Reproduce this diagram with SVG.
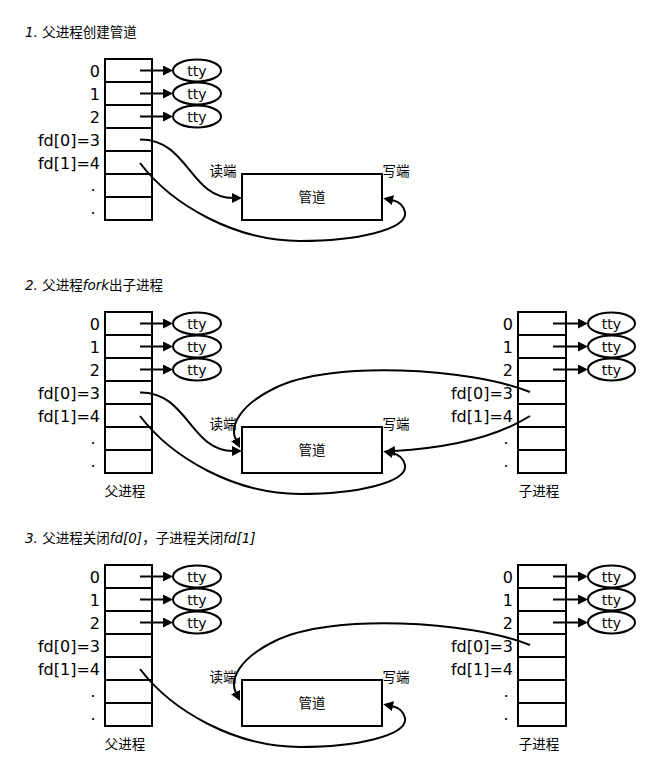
<svg xmlns="http://www.w3.org/2000/svg" width="654" height="761" viewBox="0 0 654 761">
<defs>
<style>
text{font-family:"DejaVu Sans","Noto Sans CJK SC",sans-serif;fill:#000}
.title{font-size:13.5px}
.it{font-style:italic}
.lbl{font-size:16px;text-anchor:end}
.dot{font-size:16px;text-anchor:middle}
.tty{font-size:14px;text-anchor:middle}
.cj{font-size:13.5px;text-anchor:middle}
.cell{fill:#fff;stroke:#000;stroke-width:2}
.ell{fill:#fff;stroke:#000;stroke-width:2}
.ln{fill:none;stroke:#000;stroke-width:2;marker-end:url(#ah)}
</style>
<marker id="ah" viewBox="0 0 10 10" refX="1" refY="5" markerWidth="10" markerHeight="10" markerUnits="userSpaceOnUse" orient="auto">
<path d="M0,0 L10,5 L0,10 z" fill="#000"/>
</marker>
</defs>
<rect width="654" height="761" fill="#fff"/>

<!-- Section 1 -->
<g id="section1">
<text class="title" x="25" y="37"><tspan class="it">1.</tspan> 父进程创建管道</text>
<g id="s1-parent-table">
<rect class="cell" x="105" y="59" width="47" height="23"/>
<rect class="cell" x="105" y="82" width="47" height="23"/>
<rect class="cell" x="105" y="105" width="47" height="23"/>
<rect class="cell" x="105" y="128" width="47" height="23"/>
<rect class="cell" x="105" y="151" width="47" height="23"/>
<rect class="cell" x="105" y="174" width="47" height="23"/>
<rect class="cell" x="105" y="197" width="47" height="23"/>
<text class="lbl" x="100" y="76.5">0</text>
<text class="lbl" x="100" y="99.5">1</text>
<text class="lbl" x="100" y="122.5">2</text>
<text class="lbl" x="100" y="145.5">fd[0]=3</text>
<text class="lbl" x="100" y="168.5">fd[1]=4</text>
<text class="dot" x="93" y="191">.</text>
<text class="dot" x="93" y="214">.</text>
</g>
<g id="s1-tty0"><ellipse class="ell" cx="197" cy="70.5" rx="24" ry="11"/><text class="tty" x="197" y="75.5">tty</text></g>
<g id="s1-tty1"><ellipse class="ell" cx="197" cy="93.5" rx="24" ry="11"/><text class="tty" x="197" y="98.5">tty</text></g>
<g id="s1-tty2"><ellipse class="ell" cx="197" cy="116.5" rx="24" ry="11"/><text class="tty" x="197" y="121.5">tty</text></g>
<g id="s1-pipe">
<rect class="cell" x="242" y="174" width="140" height="46"/>
<text class="cj" x="312" y="202">管道</text>
<text class="cj" x="223" y="176">读端</text>
<text class="cj" x="396" y="176">写端</text>
</g>
<g id="s1-connectors">
<path class="ln" d="M140,70.5 H164"/>
<path class="ln" d="M140,93.5 H164"/>
<path class="ln" d="M140,116.5 H164"/>
<path class="ln" d="M140,139.5 C188,139 190,198 233,198"/>
<path class="ln" d="M140,163 C172,205 235,241 300,241 C355,241 408,230 405,212 C403,204 397,201 392,200"/>
</g>
</g>

<!-- Section 2 -->
<g id="section2" transform="translate(0,253)">
<text class="title" x="25" y="37"><tspan class="it">2.</tspan> 父进程<tspan class="it">fork</tspan>出子进程</text>
<g id="s2-parent-table">
<rect class="cell" x="105" y="59" width="47" height="23"/>
<rect class="cell" x="105" y="82" width="47" height="23"/>
<rect class="cell" x="105" y="105" width="47" height="23"/>
<rect class="cell" x="105" y="128" width="47" height="23"/>
<rect class="cell" x="105" y="151" width="47" height="23"/>
<rect class="cell" x="105" y="174" width="47" height="23"/>
<rect class="cell" x="105" y="197" width="47" height="23"/>
<text class="lbl" x="100" y="76.5">0</text>
<text class="lbl" x="100" y="99.5">1</text>
<text class="lbl" x="100" y="122.5">2</text>
<text class="lbl" x="100" y="145.5">fd[0]=3</text>
<text class="lbl" x="100" y="168.5">fd[1]=4</text>
<text class="dot" x="93" y="191">.</text>
<text class="dot" x="93" y="214">.</text>
<text class="cj" x="125" y="243">父进程</text>
</g>
<g id="s2-tty0"><ellipse class="ell" cx="197" cy="70.5" rx="24" ry="11"/><text class="tty" x="197" y="75.5">tty</text></g>
<g id="s2-tty1"><ellipse class="ell" cx="197" cy="93.5" rx="24" ry="11"/><text class="tty" x="197" y="98.5">tty</text></g>
<g id="s2-tty2"><ellipse class="ell" cx="197" cy="116.5" rx="24" ry="11"/><text class="tty" x="197" y="121.5">tty</text></g>
<g id="s2-pipe">
<rect class="cell" x="242" y="174" width="140" height="46"/>
<text class="cj" x="312" y="202">管道</text>
<text class="cj" x="223" y="176">读端</text>
<text class="cj" x="396" y="176">写端</text>
</g>
<g id="s2-child-table">
<rect class="cell" x="518" y="59" width="48" height="23"/>
<rect class="cell" x="518" y="82" width="48" height="23"/>
<rect class="cell" x="518" y="105" width="48" height="23"/>
<rect class="cell" x="518" y="128" width="48" height="23"/>
<rect class="cell" x="518" y="151" width="48" height="23"/>
<rect class="cell" x="518" y="174" width="48" height="23"/>
<rect class="cell" x="518" y="197" width="48" height="23"/>
<text class="lbl" x="513" y="76.5">0</text>
<text class="lbl" x="513" y="99.5">1</text>
<text class="lbl" x="513" y="122.5">2</text>
<text class="lbl" x="513" y="145.5">fd[0]=3</text>
<text class="lbl" x="513" y="168.5">fd[1]=4</text>
<text class="dot" x="506" y="191">.</text>
<text class="dot" x="506" y="214">.</text>
<text class="cj" x="539" y="243">子进程</text>
</g>
<g id="s2-ctty0"><ellipse class="ell" cx="611.5" cy="70.5" rx="23.5" ry="11"/><text class="tty" x="611.5" y="75.5">tty</text></g>
<g id="s2-ctty1"><ellipse class="ell" cx="611.5" cy="93.5" rx="23.5" ry="11"/><text class="tty" x="611.5" y="98.5">tty</text></g>
<g id="s2-ctty2"><ellipse class="ell" cx="611.5" cy="116.5" rx="23.5" ry="11"/><text class="tty" x="611.5" y="121.5">tty</text></g>
<g id="s2-connectors">
<path class="ln" d="M140,70.5 H164"/>
<path class="ln" d="M140,93.5 H164"/>
<path class="ln" d="M140,116.5 H164"/>
<path class="ln" d="M553,70.5 H579"/>
<path class="ln" d="M553,93.5 H579"/>
<path class="ln" d="M553,116.5 H579"/>
<path class="ln" d="M140,139.5 C188,139 190,198 233,198"/>
<path class="ln" d="M140,163 C172,205 235,241 300,241 C355,241 408,230 405,212 C403,204 397,201 392,200"/>
<path class="ln" d="M530,139 C470,115 330,107 275,135 C240,152 229,173 236,187"/>
<path class="ln" d="M530,163 C495,185 445,195 394,198"/>
</g>
</g>

<!-- Section 3 -->
<g id="section3" transform="translate(0,506)">
<text class="title" x="25" y="37"><tspan class="it">3.</tspan> 父进程关闭<tspan class="it">fd[0]</tspan>，子进程关闭<tspan class="it">fd[1]</tspan></text>
<g id="s3-parent-table">
<rect class="cell" x="105" y="59" width="47" height="23"/>
<rect class="cell" x="105" y="82" width="47" height="23"/>
<rect class="cell" x="105" y="105" width="47" height="23"/>
<rect class="cell" x="105" y="128" width="47" height="23"/>
<rect class="cell" x="105" y="151" width="47" height="23"/>
<rect class="cell" x="105" y="174" width="47" height="23"/>
<rect class="cell" x="105" y="197" width="47" height="23"/>
<text class="lbl" x="100" y="76.5">0</text>
<text class="lbl" x="100" y="99.5">1</text>
<text class="lbl" x="100" y="122.5">2</text>
<text class="lbl" x="100" y="145.5">fd[0]=3</text>
<text class="lbl" x="100" y="168.5">fd[1]=4</text>
<text class="dot" x="93" y="191">.</text>
<text class="dot" x="93" y="214">.</text>
<text class="cj" x="125" y="243">父进程</text>
</g>
<g id="s3-tty0"><ellipse class="ell" cx="197" cy="70.5" rx="24" ry="11"/><text class="tty" x="197" y="75.5">tty</text></g>
<g id="s3-tty1"><ellipse class="ell" cx="197" cy="93.5" rx="24" ry="11"/><text class="tty" x="197" y="98.5">tty</text></g>
<g id="s3-tty2"><ellipse class="ell" cx="197" cy="116.5" rx="24" ry="11"/><text class="tty" x="197" y="121.5">tty</text></g>
<g id="s3-pipe">
<rect class="cell" x="242" y="174" width="140" height="46"/>
<text class="cj" x="312" y="202">管道</text>
<text class="cj" x="223" y="176">读端</text>
<text class="cj" x="396" y="176">写端</text>
</g>
<g id="s3-child-table">
<rect class="cell" x="518" y="59" width="48" height="23"/>
<rect class="cell" x="518" y="82" width="48" height="23"/>
<rect class="cell" x="518" y="105" width="48" height="23"/>
<rect class="cell" x="518" y="128" width="48" height="23"/>
<rect class="cell" x="518" y="151" width="48" height="23"/>
<rect class="cell" x="518" y="174" width="48" height="23"/>
<rect class="cell" x="518" y="197" width="48" height="23"/>
<text class="lbl" x="513" y="76.5">0</text>
<text class="lbl" x="513" y="99.5">1</text>
<text class="lbl" x="513" y="122.5">2</text>
<text class="lbl" x="513" y="145.5">fd[0]=3</text>
<text class="lbl" x="513" y="168.5">fd[1]=4</text>
<text class="dot" x="506" y="191">.</text>
<text class="dot" x="506" y="214">.</text>
<text class="cj" x="539" y="243">子进程</text>
</g>
<g id="s3-ctty0"><ellipse class="ell" cx="611.5" cy="70.5" rx="23.5" ry="11"/><text class="tty" x="611.5" y="75.5">tty</text></g>
<g id="s3-ctty1"><ellipse class="ell" cx="611.5" cy="93.5" rx="23.5" ry="11"/><text class="tty" x="611.5" y="98.5">tty</text></g>
<g id="s3-ctty2"><ellipse class="ell" cx="611.5" cy="116.5" rx="23.5" ry="11"/><text class="tty" x="611.5" y="121.5">tty</text></g>
<g id="s3-connectors">
<path class="ln" d="M140,70.5 H164"/>
<path class="ln" d="M140,93.5 H164"/>
<path class="ln" d="M140,116.5 H164"/>
<path class="ln" d="M553,70.5 H579"/>
<path class="ln" d="M553,93.5 H579"/>
<path class="ln" d="M553,116.5 H579"/>
<path class="ln" d="M140,163 C172,205 235,241 300,241 C355,241 408,230 405,212 C403,204 397,201 392,200"/>
<path class="ln" d="M530,139 C470,115 330,107 275,135 C240,152 229,173 236,187"/>
</g>
</g>
</svg>
